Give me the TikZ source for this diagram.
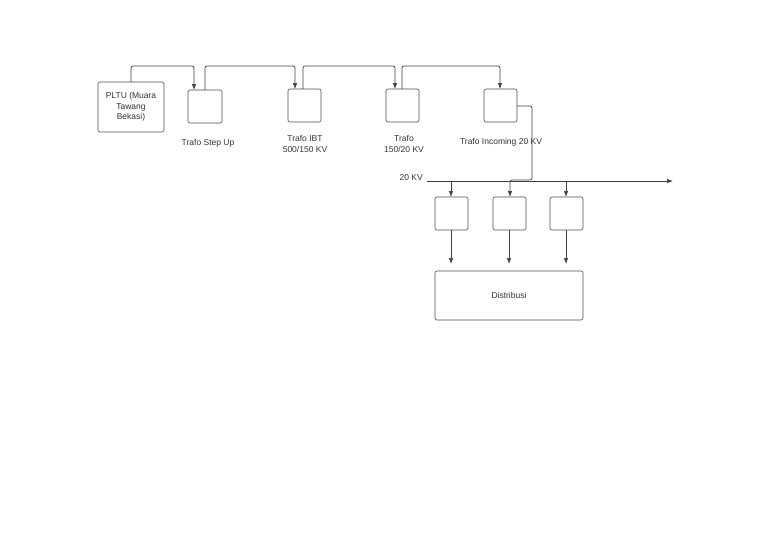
\documentclass[tikz,border=0pt]{standalone}
\usepackage{fontspec}
\setmainfont{Liberation Sans}
\usetikzlibrary{arrows.meta}
\begin{document}
\begin{tikzpicture}[x=1pt,y=-1pt,
 box/.style={draw=black!70,rounded corners=2pt,line width=0.6pt},
 ln/.style={draw=black!75,line width=0.7pt,rounded corners=2pt},
 arr/.style={ln,-{Latex[length=6pt,width=4.5pt]}},
 lab/.style={font=\fontsize{8.5}{10.5}\selectfont,text=black!80,align=center,inner sep=0}]
\useasboundingbox (0,0) rectangle (768,543);
\draw[box] (98,82) rectangle (164,132);
\node[lab] (pltu) at (131,107) {PLTU (Muara\\Tawang\\Bekasi)};
\draw[box] (188,90) rectangle (222,123);
\draw[box] (288,89) rectangle (321,122);
\draw[box] (386,89) rectangle (419,122);
\draw[box] (484,89) rectangle (517,122);
\coordinate (a1) at (131,82); \coordinate (b1) at (194,90);
\coordinate (a2) at (205,90); \coordinate (b2) at (295,89);
\coordinate (a3) at (303,89); \coordinate (b3) at (395,89);
\coordinate (a4) at (402,89); \coordinate (b4) at (500,89);
\draw[arr] (a1) |- (194,66) -- (b1);
\draw[arr] (a2) |- (295,66) -- (b2);
\draw[arr] (a3) |- (395,66) -- (b3);
\draw[arr] (a4) |- (500,66) -- (b4);
\node[lab] (l1) at (208,143) {Trafo Step Up};
\node[lab] (l2) at (305,144) {Trafo IBT\\500/150 KV};
\node[lab] (l3) at (404,144) {Trafo\\150/20 KV};
\node[lab] (l4) at (501,142) {Trafo Incoming 20 KV};
\coordinate (bs) at (427,181); \coordinate (be) at (673,181);
\draw[arr] (bs) -- (be);
\node[lab,anchor=east] (kv) at (423,178) {20 KV};
\draw[box] (435,197) rectangle (468,230);
\draw[box] (493,197) rectangle (526,230);
\draw[box] (550,197) rectangle (583,230);
\draw[arr] (517,106) -- (532,106) -- (532,180) -- (510,180) -- (510,197);
\draw[arr] (451,181) -- (451,197);
\draw[arr] (566,181) -- (566,197);
\draw[arr] (451,230) -- (451,264);
\draw[arr] (509,230) -- (509,264);
\draw[arr] (566,230) -- (566,264);
\draw[box] (435,271) rectangle (583,320);
\node[lab] (d) at (509,295) {Distribusi};
\end{tikzpicture}
\end{document}
